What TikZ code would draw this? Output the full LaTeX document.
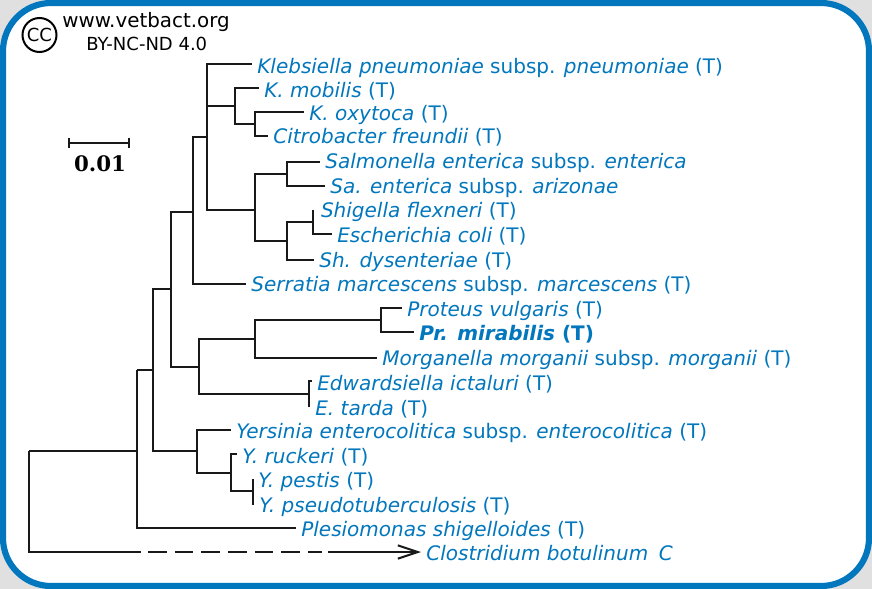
\documentclass[tikz,border=0pt]{standalone}
\usepackage{fontspec}
\setmainfont{DejaVu Sans}
\newfontfamily\scalefont{DejaVu Serif}
\usepackage{xcolor}
\usetikzlibrary{arrows.meta}
\definecolor{vetblue}{RGB}{2,119,189}
\definecolor{cornergrey}{RGB}{224,224,224}
\definecolor{branchcol}{RGB}{25,25,25}

\begin{document}
\begin{tikzpicture}[x=0.75pt,y=-0.75pt,
    taxon/.style={anchor=west,text=vetblue,inner ysep=0pt,outer sep=0pt,inner xsep=4pt,text height=13pt+0.75pt*#1,text depth=2pt-0.75pt*#1,font=\fontsize{15}{17}\selectfont},
    taxon/.default=0,
    branch/.style={draw=branchcol,line width=1.7pt,line join=miter}]
    \useasboundingbox (0,0) rectangle (872,589);
    \fill[cornergrey] (0,0) rectangle (872,589);
    \draw[vetblue,fill=white,line width=4.6pt,rounded corners=36pt] (3,3) rectangle (869,586);

    % licence and scale
    \node[draw,circle,line width=1.5pt,minimum size=25.5pt,inner sep=0pt,font=\fontsize{13.5}{15}\selectfont] (ccLogo) at (39.5,35) {CC};
    \node[anchor=west,inner sep=0pt,font=\fontsize{14.9}{17}\selectfont] (siteText) at (62,22) {www.vetbact.org};
    \node[anchor=west,inner sep=0pt,font=\fontsize{13.5}{15}\selectfont] (licText) at (86,44) {BY-NC-ND 4.0};
    \coordinate (barA) at (68,143);
    \coordinate (barB) at (130,143);
    \draw[branch,{Bar[width=7pt]}-{Bar[width=7pt]}] (barA) -- (barB);
    \node[inner sep=0pt,font=\scalefont\bfseries\fontsize{16}{18}\selectfont] (barText) at (100,164) {0.01};

    % taxa
    \node[taxon=2] (klebP) at (252,64) {\textit{Klebsiella pneumoniae} subsp. \textit{pneumoniae} (T)};
    \node[taxon=2] (klebM) at (259,88) {\textit{K. mobilis} (T)};
    \node[taxon=1] (klebO) at (304,112) {\textit{K. oxytoca} (T)};
    \node[taxon] (citroF) at (268,136) {\textit{Citrobacter freundii} (T)};
    \node[taxon=-1] (salmE) at (320,162) {\textit{Salmonella enterica} subsp. \textit{enterica}};
    \node[taxon] (salmA) at (325,186) {\textit{Sa. enterica} subsp. \textit{arizonae}};
    \node[taxon,inner xsep=6pt] (shigF) at (313,210) {\textit{Shigella flexneri} (T)};
    \node[taxon=1] (escheC) at (332,234) {\textit{Escherichia coli} (T)};
    \node[taxon] (shigD) at (314,260) {\textit{Sh. dysenteriae} (T)};
    \node[taxon] (serrM) at (246,284) {\textit{Serratia marcescens} subsp. \textit{marcescens} (T)};
    \node[taxon=1] (protV) at (402,308) {\textit{Proteus vulgaris} (T)};
    \node[taxon=1] (protM) at (414,332) {\textbf{\textit{Pr. mirabilis} (T)}};
    \node[taxon] (morgM) at (377,358) {\textit{Morganella morganii} subsp. \textit{morganii} (T)};
    \node[taxon=2] (edwI) at (312,381) {\textit{Edwardsiella ictaluri} (T)};
    \node[taxon=2] (edwT) at (310,406) {\textit{E. tarda} (T)};
    \node[taxon=1] (yersE) at (231,430) {\textit{Yersinia enterocolitica} subsp. \textit{enterocolitica} (T)};
    \node[taxon=2] (yersR) at (237,454) {\textit{Y. ruckeri} (T)};
    \node[taxon=1] (yersP) at (253,479) {\textit{Y. pestis} (T)};
    \node[taxon=1] (yersT) at (254,504) {\textit{Y. pseudotuberculosis} (T)};
    \node[taxon=1] (plesS) at (296,528) {\textit{Plesiomonas shigelloides} (T)};
    \node[taxon=1] (closB) at (421,552) {\textit{Clostridium botulinum \hspace{3.2pt}C}};

    % forks of the tree
    \coordinate (fRoot) at (29,451);
    \coordinate (fTop) at (137,370);
    \coordinate (fEntero) at (153,370);
    \coordinate (fUpper) at (171,289);
    \coordinate (fSerr) at (193,212);
    \coordinate (fKleb) at (207,137);
    \coordinate (fKM) at (235,106);
    \coordinate (fKO) at (255,124);
    \coordinate (fEsch) at (255,210);
    \coordinate (fSalm) at (287,174);
    \coordinate (fShig) at (287,241);
    \coordinate (fSF) at (313,222);
    \coordinate (fProt) at (199,367);
    \coordinate (fPM) at (255,339);
    \coordinate (fPr) at (381,320);
    \coordinate (fEdw) at (309,394);
    \coordinate (fYers) at (197,451);
    \coordinate (fYR) at (231,473);
    \coordinate (fYP) at (253,491);
    \coordinate (stubEnd) at (141,552);
    \coordinate (dashA) at (148,552);
    \coordinate (dashB) at (322,552);
    \coordinate (tailStart) at (328,552);

    \draw[branch] (fRoot) -| (fTop);
    \draw[branch] (fTop) -- (fEntero);
    \draw[branch] (fTop) |- (plesS.west);
    \draw[branch] (fEntero) |- (fUpper);
    \draw[branch] (fEntero) |- (fYers);
    \draw[branch] (fUpper) |- (fSerr);
    \draw[branch] (fUpper) |- (fProt);
    \draw[branch] (fSerr) |- (fKleb);
    \draw[branch] (fSerr) |- (serrM.west);
    \draw[branch] (fKleb) |- (klebP.west);
    \draw[branch] (fKleb) |- (fKM);
    \draw[branch] (fKleb) |- (fEsch);
    \draw[branch] (fKM) |- (klebM.west);
    \draw[branch] (fKM) |- (fKO);
    \draw[branch] (fKO) |- (klebO.west);
    \draw[branch] (fKO) |- (citroF.west);
    \draw[branch] (fEsch) |- (fSalm);
    \draw[branch] (fEsch) |- (fShig);
    \draw[branch] (fSalm) |- (salmE.west);
    \draw[branch] (fSalm) |- (salmA.west);
    \draw[branch] (fShig) |- (fSF);
    \draw[branch] (fShig) |- (shigD.west);
    \draw[branch] (fSF) -- (shigF.west);
    \draw[branch] (fSF) |- (escheC.west);
    \draw[branch] (fProt) |- (fPM);
    \draw[branch] (fProt) |- (fEdw);
    \draw[branch] (fPM) |- (fPr);
    \draw[branch] (fPM) |- (morgM.west);
    \draw[branch] (fPr) |- (protV.west);
    \draw[branch] (fPr) |- (protM.west);
    \draw[branch] (fEdw) |- (edwI.west);
    \draw[branch] (fEdw) |- (edwT.west);
    \draw[branch] (fYers) |- (yersE.west);
    \draw[branch] (fYers) |- (fYR);
    \draw[branch] (fYR) |- (yersR.west);
    \draw[branch] (fYR) |- (fYP);
    \draw[branch] (fYP) |- (yersP.west);
    \draw[branch] (fYP) |- (yersT.west);
    \draw[branch] (fRoot) |- (stubEnd);
    \draw[branch,dash pattern=on 14 off 6] (dashA) -- (dashB);
    \draw[branch,-{Straight Barb[length=15pt,width=10pt,line width=1.5pt]}] (tailStart) -- (closB.west);
\end{tikzpicture}
\end{document}
